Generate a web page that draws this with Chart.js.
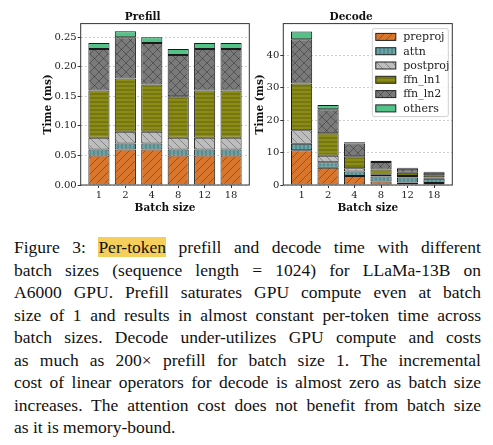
<!DOCTYPE html>
<html>
<head>
<meta charset="utf-8">
<script src="https://cdn.jsdelivr.net/npm/chart.js@4.4.0/dist/chart.umd.min.js"></script>
<style>
  body { margin: 0; width: 493px; height: 445px; background: #fff; position: relative; overflow: hidden; }
  #prefill { position: absolute; left: 0; top: 0; }
  #decode { position: absolute; left: 250px; top: 0; }
  .caption { position: absolute; left: 14px; top: 236px; width: 467px; font-family: "Liberation Serif", "Times New Roman", Tinos, "Nimbus Roman", Times, serif; font-size: 17.5px; color: #111; }
  .caption div { height: 22.5px; line-height: 22.5px; text-align: justify; text-align-last: justify; }
  .caption div.last { text-align-last: left; }
  .hl { background: #f6ce5c; }
</style>
</head>
<body>
<canvas id="prefill" width="250" height="215"></canvas>
<canvas id="decode" width="243" height="215"></canvas>
<div class="caption">
  <div>Figure 3: <span class="hl">Per-token</span> prefill and decode time with different</div>
  <div>batch sizes (sequence length = 1024) for LLaMa-13B on</div>
  <div>A6000 GPU. Prefill saturates GPU compute even at batch</div>
  <div>size of 1 and results in almost constant per-token time across</div>
  <div>batch sizes. Decode under-utilizes GPU compute and costs</div>
  <div>as much as 200&times; prefill for batch size 1. The incremental</div>
  <div>cost of linear operators for decode is almost zero as batch size</div>
  <div>increases. The attention cost does not benefit from batch size</div>
  <div class="last">as it is memory-bound.</div>
</div>
<script>
// categories
const batchSizes = ['1', '2', '4', '8', '12', '18'];
const components = ['preproj', 'attn', 'postproj', 'ffn_ln1', 'ffn_ln2', 'others'];

// prefill per-token time (ms), one array per component
const prefillPreproj = [0.05, 0.06, 0.06, 0.05, 0.05, 0.05];
const prefillAttn = [0.01, 0.01, 0.01, 0.01, 0.01, 0.01];
const prefillPostproj = [0.02, 0.02, 0.02, 0.02, 0.02, 0.02];
const prefillFfn1 = [0.08, 0.09, 0.08, 0.07, 0.08, 0.08];
const prefillFfn2 = [0.07, 0.07, 0.07, 0.07, 0.07, 0.07];
const prefillOthers = [0.01, 0.01, 0.01, 0.01, 0.01, 0.01];

// decode per-token time (ms)
const decodePreproj = [10.7, 5.3, 2.8, 1.1, 0.8, 0.6];
const decodeAttn = [2.0, 1.7, 1.4, 1.5, 1.5, 1.3];
const decodePostproj = [4.2, 2.0, 1.0, 0.6, 0.5, 0.4];
const decodeFfn1 = [14.4, 7.0, 3.7, 1.6, 1.0, 0.7];
const decodeFfn2 = [13.7, 7.4, 3.9, 2.3, 1.2, 0.8];
const decodeOthers = [2.4, 1.3, 0.4, 0.4, 0.3, 0.3];

// tick labels
const prefillTicks = [0, 0.05, 0.10, 0.15, 0.20, 0.25];
const decodeTicks = [0, 10, 20, 30, 40];

Chart.defaults.font.family = "'DejaVu Serif', serif";
Chart.defaults.font.size = 10;
Chart.defaults.color = '#222';

// hatch fills, roughly like matplotlib's
function hatch(bg, kind, size) {
    const c = document.createElement('canvas');
    c.width = c.height = size;
    const g = c.getContext('2d');
    g.fillStyle = bg;
    g.fillRect(0, 0, size, size);
    if (kind) {
        g.strokeStyle = 'rgba(0,0,0,0.3)';
        g.lineWidth = 1;
        g.beginPath();
        for (const o of [-size, 0, size]) {
            if (kind === '/' || kind === 'x') { g.moveTo(o, size); g.lineTo(o + size, 0); }
            if (kind === '\\' || kind === 'x') { g.moveTo(o, 0); g.lineTo(o + size, size); }
        }
        if (kind === '-') { g.moveTo(0, size / 2); g.lineTo(size, size / 2); }
        if (kind === '|') { g.moveTo(size / 2, 0); g.lineTo(size / 2, size); }
        g.stroke();
    }
    return g.createPattern(c, 'repeat');
}

const fills = [
    hatch('#d8762e', '/', 8),
    hatch('#66a6a8', '|', 4),
    hatch('#bdbdbd', '\\', 8),
    hatch('#8a8c16', '-', 4),
    hatch('#7a7a7a', 'x', 9),
    hatch('#52c287', null, 4)
];

const framePlugin = {
    id: 'frame',
    afterDraw(chart) {
        const a = chart.chartArea, ctx = chart.ctx;
        ctx.save();
        ctx.strokeStyle = '#333';
        ctx.lineWidth = 1;
        ctx.strokeRect(a.left, a.top, a.right - a.left, a.bottom - a.top);
        ctx.restore();
    }
};

const legendPlugin = {
    id: 'innerLegend',
    afterDraw(chart) {
        const a = chart.chartArea, ctx = chart.ctx;
        const w = 76, h = 88, x = a.right - 4 - w, y = a.top + 5;
        ctx.save();
        ctx.fillStyle = 'rgba(255,255,255,0.85)';
        ctx.strokeStyle = '#d0d0d0';
        ctx.lineWidth = 1;
        ctx.beginPath();
        ctx.roundRect(x, y, w, h, 2);
        ctx.fill();
        ctx.stroke();
        ctx.font = "11px 'DejaVu Serif'";
        ctx.textBaseline = 'middle';
        components.forEach((name, i) => {
            const cy = y + 8.3 + i * 14.3;
            ctx.fillStyle = fills[i];
            ctx.fillRect(x + 3.5, cy - 3.5, 20, 7);
            ctx.strokeStyle = '#222';
            ctx.strokeRect(x + 3.5, cy - 3.5, 20, 7);
            ctx.fillStyle = '#222';
            ctx.fillText(name, x + 31, cy + 0.5);
        });
        ctx.restore();
    }
};

function makeChart(id, title, series, ticks, yMax, fmt, geo, plugins) {
    const datasets = series.map((vals, i) => ({
        label: components[i],
        data: vals.map((v, j) => ({ x: j, y: v })),
        backgroundColor: fills[i],
        borderColor: '#1a1a1a',
        borderWidth: 1,
        borderSkipped: false,
        barPercentage: 0.8,
        categoryPercentage: 1
    }));
    return new Chart(document.getElementById(id), {
        type: 'bar',
        data: { datasets: datasets },
        options: {
            responsive: false,
            animation: false,
            layout: { padding: { left: geo.padLeft, right: geo.padRight, top: 11, bottom: 0 } },
            plugins: {
                legend: { display: false },
                tooltip: { enabled: false },
                title: {
                    display: true,
                    text: title,
                    font: { size: 10.5, weight: 'bold' },
                    color: '#111',
                    padding: 0
                }
            },
            scales: {
                x: {
                    type: 'linear',
                    stacked: true,
                    offset: false,
                    min: -0.69,
                    max: 5.69,
                    afterBuildTicks: axis => { axis.ticks = batchSizes.map((b, i) => ({ value: i })); },
                    afterFit: axis => { axis.height = 30; },
                    ticks: { callback: (v, i) => batchSizes[i], padding: 1, maxRotation: 0, color: '#222', font: { size: 10 } },
                    grid: { offset: false, drawOnChartArea: false, tickLength: 3, tickColor: '#333' },
                    border: { display: false },
                    title: { display: true, text: 'Batch size', font: { size: 10.5, weight: 'bold' }, color: '#111', padding: { top: 3.7, bottom: 0 } }
                },
                y: {
                    stacked: true,
                    min: 0,
                    max: yMax,
                    afterBuildTicks: axis => { axis.ticks = ticks.map(v => ({ value: v })); },
                    afterFit: axis => { axis.width = geo.yWidth; },
                    ticks: { callback: v => fmt(v), padding: 1, color: '#222', font: { size: 10 } },
                    grid: { color: '#cfcfcf', tickLength: 3, tickColor: '#333', tickBorderDash: [] },
                    border: { display: false, dash: [2, 2] },
                    title: { display: true, text: 'Time (ms)', font: { size: 10.5, weight: 'bold' }, color: '#111', padding: { top: geo.yTitlePad, bottom: 0 } }
                }
            }
        },
        plugins: plugins
    });
}

makeChart('prefill', 'Prefill',
    [prefillPreproj, prefillAttn, prefillPostproj, prefillFfn1, prefillFfn2, prefillOthers],
    prefillTicks, 0.273, v => v.toFixed(2),
    { padLeft: 36, padRight: 0.7, yWidth: 44.7, yTitlePad: 5.7 },
    [framePlugin]);

makeChart('decode', 'Decode',
    [decodePreproj, decodeAttn, decodePostproj, decodeFfn1, decodeFfn2, decodeOthers],
    decodeTicks, 49.8, v => String(v),
    { padLeft: 0, padRight: 40.7, yWidth: 33.3, yTitlePad: 4.4 },
    [framePlugin, legendPlugin]);
</script>
</body>
</html>
